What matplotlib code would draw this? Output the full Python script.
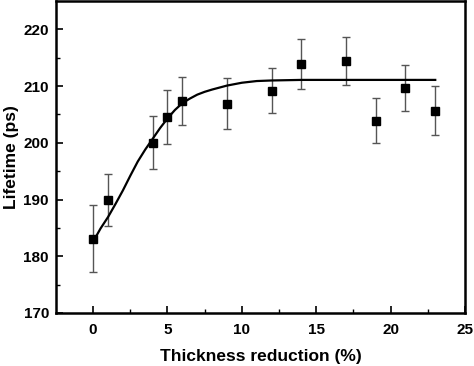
import numpy as np
from matplotlib import pyplot as plt

plt.rcParams['font.family'] = ['Liberation Sans', 'DejaVu Sans']
plt.rcParams['font.weight'] = 'bold'

# measured lifetime vs thickness reduction
reduction = [0, 1, 4, 5, 6, 9, 12, 14, 17, 19, 21, 23]
lifetime = [183.1, 189.9, 200.0, 204.6, 207.4, 206.9, 209.2, 213.9, 214.4, 203.9, 209.7, 205.7]
err = [5.9, 4.6, 4.7, 4.8, 4.3, 4.5, 4.0, 4.4, 4.2, 4.0, 4.0, 4.3]

# fitted curve
fit_x = [0.2, 0.5, 1, 1.5, 2, 2.5, 3, 3.5, 4, 4.5, 5, 5.5, 6, 6.5, 7, 7.5, 8, 9, 10, 11, 12, 14, 17, 20, 23]
fit_y = [183.5, 184.9, 186.9, 189.2, 191.6, 194.2, 196.7, 198.8, 200.7, 202.6, 204.3, 205.8, 207.0, 207.8, 208.5, 209.0, 209.4, 210.1, 210.6, 210.9, 211.0, 211.1, 211.1, 211.1, 211.1]

fig = plt.figure(figsize=(4.74, 3.66), dpi=100)
ax = fig.add_axes([0.118, 0.145, 0.863, 0.852])

ax.plot(fit_x, fit_y, color='black', lw=1.6, zorder=2)
ax.errorbar(reduction, lifetime, yerr=err, fmt='none', ecolor='#555555',
            elinewidth=1.0, capsize=3, capthick=1.0, zorder=1)
ax.plot(reduction, lifetime, 's', color='black', markersize=6, zorder=3)

ax.set_xlim(-2.5, 25)
ax.set_ylim(170, 225)
ax.set_xticks([0, 5, 10, 15, 20, 25])
ax.set_yticks([170, 180, 190, 200, 210, 220])
ax.set_xticks(np.arange(2.5, 25, 5), minor=True)
ax.set_yticks(np.arange(175, 225, 10), minor=True)
ax.tick_params(which='major', direction='in', length=5, width=1.2, labelsize=11)
ax.tick_params(axis='x', which='major', pad=7)
ax.tick_params(axis='y', which='major', pad=5)
ax.tick_params(which='minor', direction='in', length=3, width=1.0)
ax.tick_params(top=False, right=False)
for s in ax.spines.values():
    s.set_linewidth(1.8)

ax.set_xlabel('Thickness reduction (%)', fontsize=12.5, fontweight='bold', labelpad=9)
ax.set_ylabel('Lifetime (ps)', fontsize=12.5, fontweight='bold', labelpad=3)

plt.savefig('out.png', dpi=100)
